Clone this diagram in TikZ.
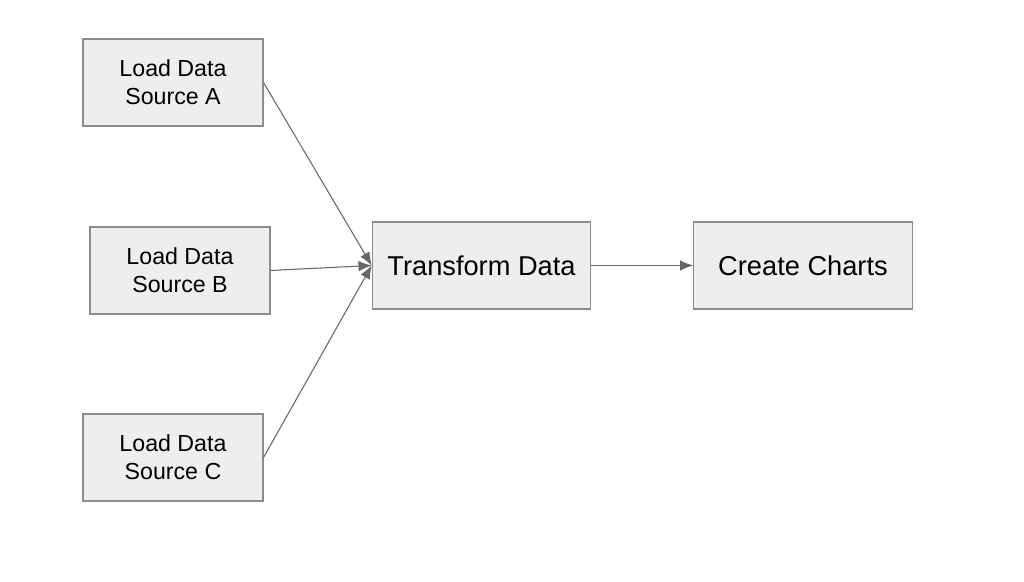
\documentclass[tikz,border=0pt]{standalone}
\usepackage{fontspec}
\setmainfont{Liberation Sans}
\usetikzlibrary{positioning,calc,arrows.meta}

\definecolor{boxfill}{HTML}{EEEEEE}
\definecolor{boxline}{HTML}{8C8C8C}
\definecolor{arrline}{HTML}{666666}

\begin{document}
\begin{tikzpicture}
	\useasboundingbox (0,0) rectangle (20.48,11.64);
	\tikzstyle{load}=[draw=boxline, fill=boxfill, line width=0.6pt, align=center, minimum width=3.6cm, minimum height=1.74cm, font=\fontsize{13.2}{16}\selectfont]
	\tikzstyle{step box}=[load, minimum width=4.37cm, font=\fontsize{15.5}{18}\selectfont]
	\tikzstyle{flow}=[draw=arrline, line width=0.6pt, -{Latex[length=7.5pt, width=6pt]}]

	\node[load] (srcA) at (3.46, 9.99) {Load Data \\ Source A};
	\node[load] (srcB) at (3.60, 6.23) {Load Data \\ Source B};
	\node[load] (srcC) at (3.46, 2.49) {Load Data \\ Source C};
	\node[step box] (transform) at (9.63, 6.33) {Transform Data};
	\node[step box] (charts) at (16.06, 6.33) {Create Charts};

	\draw[flow] (srcA.east) to (transform.west);
	\draw[flow] (srcB.east) to (transform.west);
	\draw[flow] (srcC.east) to (transform.west);
	\draw[flow] (transform) to (charts);
\end{tikzpicture}
\end{document}
